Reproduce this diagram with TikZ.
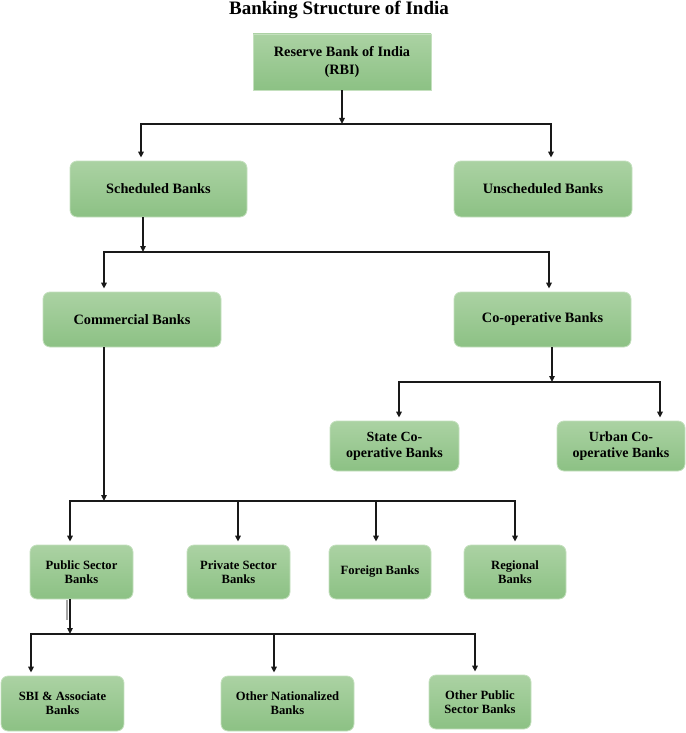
\documentclass[tikz,border=0pt]{standalone}
\usepackage{fontspec}
\setmainfont{Liberation Serif}
\usetikzlibrary{positioning,arrows.meta,calc}
\definecolor{banktop}{HTML}{ABD2A3}
\definecolor{bankbot}{HTML}{8CC184}
\definecolor{bankedge}{HTML}{C4E0BE}

\begin{document}
\begin{tikzpicture}[
    x=1pt, y=-1pt,
    every node/.style={font=\bfseries},
    bank/.style={draw=bankedge, line width=0.8pt, rounded corners=7pt,
                 top color=banktop, bottom color=bankbot, align=center,
                 inner sep=2pt},
    bigtext/.style={font=\fontsize{14.3}{18}\selectfont\bfseries},
    smalltext/.style={font=\fontsize{12.6}{14}\selectfont\bfseries},
    midtext/.style={font=\fontsize{14}{16}\selectfont\bfseries},
    arrow/.style={-{Triangle[length=6pt,width=5.5pt]}, line width=1.8pt,
                  color=black!90, shorten >=3pt},
    bus/.style={line width=1.8pt, color=black!90, line cap=rect},
]
\useasboundingbox (0,0) rectangle (685,733);

% --- Title ---
\node[font=\fontsize{19}{21}\selectfont\bfseries] (title) at (339,10)
     {Banking Structure of India};

% --- Level 1 and 2: RBI, scheduled / unscheduled ---
\node[bank, bigtext, rounded corners=0pt, minimum width=178pt,
      minimum height=56pt] (rbi) at (342,62) {Reserve Bank of India\\(RBI)};
\node[bank, bigtext, minimum width=177pt, minimum height=56pt]
     (sched) at (158.5,189) {Scheduled Banks};
\node[bank, bigtext, minimum width=178pt, minimum height=56pt]
     (unsched) at (543,189) {Unscheduled Banks};

% --- Level 3: commercial / co-operative ---
\node[bank, bigtext, minimum width=178pt, minimum height=55pt]
     (comm) at (132,319.5) {Commercial Banks};
\node[bank, bigtext, minimum width=177pt, minimum height=55pt]
     (coop) at (542.5,319.5) {Co-operative Banks};

% --- Co-operative branches ---
\node[bank, midtext, minimum width=129pt, minimum height=50pt]
     (state) at (394.5,446) {State Co-\\operative Banks};
\node[bank, midtext, minimum width=128pt, minimum height=50pt]
     (urban) at (621,446) {Urban Co-\\operative Banks};

% --- Commercial branches ---
\node[bank, smalltext, minimum width=103pt, minimum height=54pt]
     (public) at (81.5,572) {Public Sector\\Banks};
\node[bank, smalltext, minimum width=103pt, minimum height=54pt]
     (private) at (238.5,572) {Private Sector\\Banks};
\node[bank, smalltext, minimum width=102pt, minimum height=54pt]
     (foreign) at (380,572) {Foreign Banks};
\node[bank, smalltext, minimum width=102pt, minimum height=54pt]
     (regional) at (515,572) {Regional\\Banks};

% --- Public sector branches ---
\node[bank, smalltext, minimum width=123pt, minimum height=55pt]
     (sbi) at (62.5,703.5) {SBI \& Associate\\Banks};
\node[bank, smalltext, minimum width=133pt, minimum height=55pt]
     (othnat) at (287.5,703.5) {Other Nationalized\\Banks};
\node[bank, smalltext, minimum width=102pt, minimum height=54pt]
     (othpub) at (480,702) {Other Public\\Sector Banks};

% --- Bus lines (junction ends) ---
\coordinate (b1w) at (141,124);   \coordinate (b1e) at (551,124);
\coordinate (b2w) at (104,252);   \coordinate (b2e) at (549,252);
\coordinate (b3w) at (399,382);   \coordinate (b3e) at (660,382);
\coordinate (b4w) at (70,501);    \coordinate (b4e) at (515,501);
\coordinate (b4p) at (238,501);   \coordinate (b4m) at (376,501);
\coordinate (b5w) at (31,634);    \coordinate (b5e) at (475,634);
\coordinate (b5m) at (274,634);

% RBI -> scheduled / unscheduled
\draw[arrow, shorten >=0pt] (rbi.south) -- (rbi.south |- b1w);
\draw[bus] (b1w) -- (b1e);
\draw[arrow] (b1w) -- (b1w |- sched.north);
\draw[arrow] (b1e) -- (b1e |- unsched.north);

% scheduled -> commercial / co-operative
\draw[arrow, shorten >=0pt] ([xshift=-15.5pt]sched.south) -- ([xshift=-15.5pt]sched.south |- b2w);
\draw[bus] (b2w) -- (b2e);
\draw[arrow] (b2w) -- (b2w |- comm.north);
\draw[arrow] (b2e) -- (b2e |- coop.north);

% co-operative -> state / urban
\draw[arrow, shorten >=0pt] ([xshift=9.5pt]coop.south) -- ([xshift=9.5pt]coop.south |- b3w);
\draw[bus] (b3w) -- (b3e);
\draw[arrow] (b3w) -- (b3w |- state.north);
\draw[arrow] (b3e) -- (b3e |- urban.north);

% commercial -> four kinds
\draw[arrow, shorten >=0pt] (b2w |- comm.south) -- (b2w |- b4w);
\draw[bus] (b4w) -- (b4e);
\draw[arrow] (b4w) -- (b4w |- public.north);
\draw[arrow] (b4p) -- (b4p |- private.north);
\draw[arrow] (b4m) -- (b4m |- foreign.north);
\draw[arrow] (b4e) -- (b4e |- regional.north);

% public sector -> three kinds
\draw[arrow, shorten >=0pt] (b4w |- public.south) -- (b4w |- b5w);
\fill[black!35] (65.5,600) rectangle (67.5,620);
\draw[bus] (b5w) -- (b5e);
\draw[arrow] (b5w) -- (b5w |- sbi.north);
\draw[arrow] (b5m) -- (b5m |- othnat.north);
\draw[arrow] (b5e) -- (b5e |- othpub.north);

\end{tikzpicture}
\end{document}
